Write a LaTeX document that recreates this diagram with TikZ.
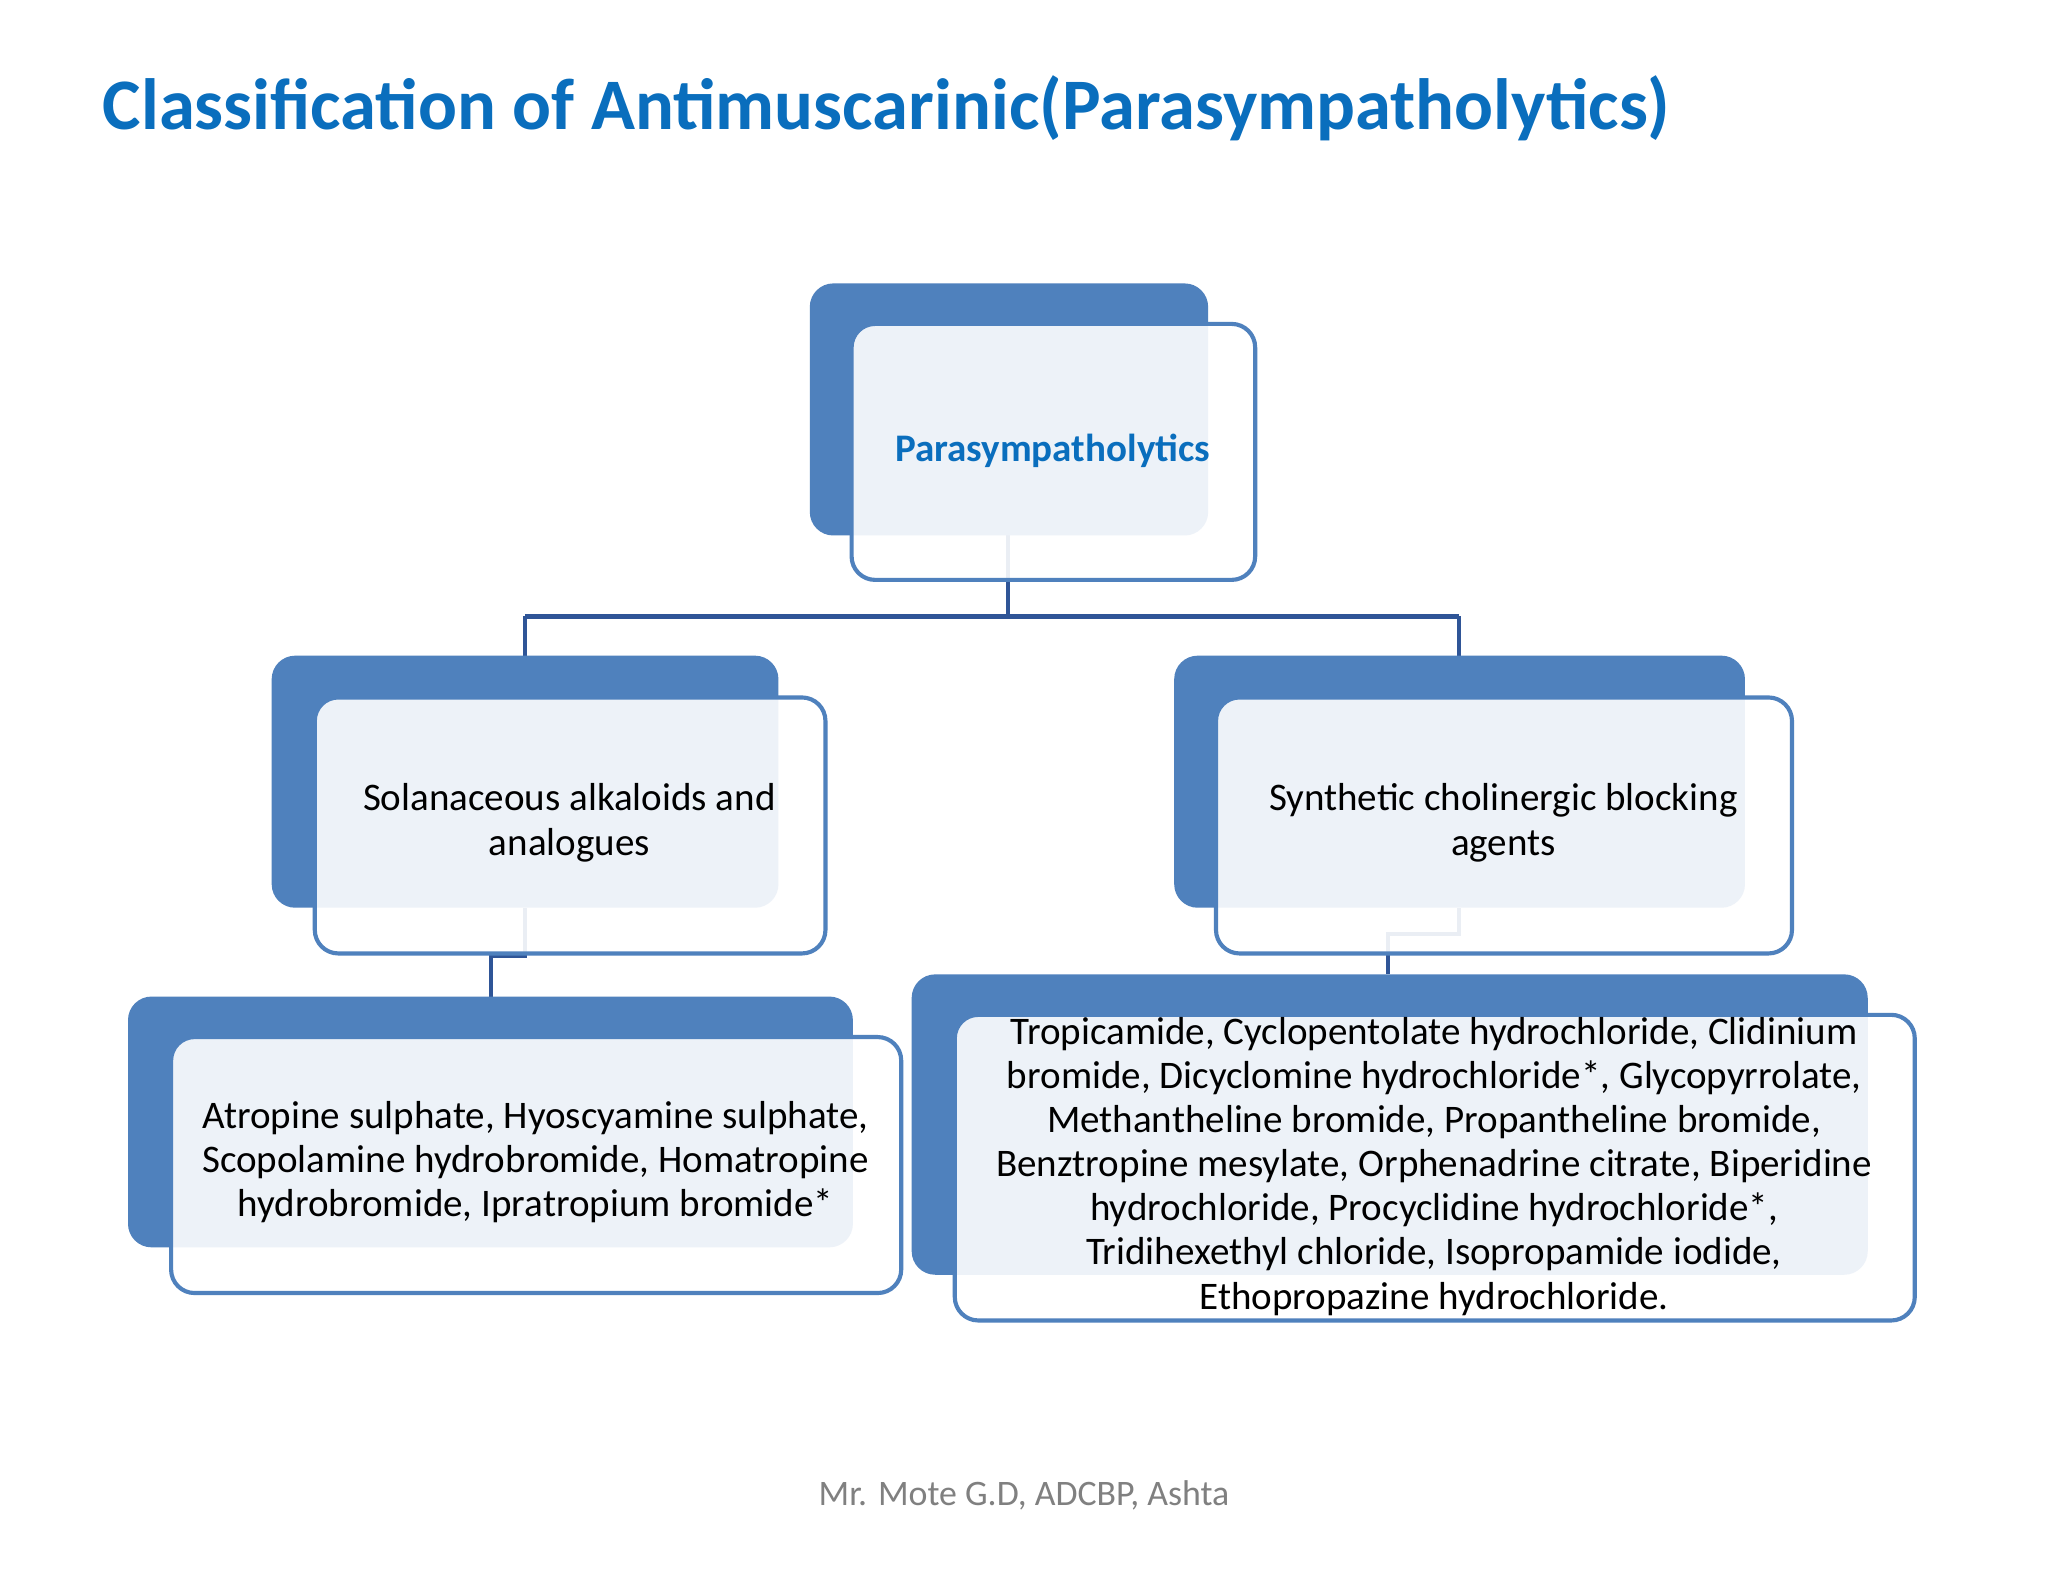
\documentclass[tikz,border=0pt]{standalone}
\usepackage{fontspec}
\setmainfont{Carlito}
\definecolor{ttl}{HTML}{0A6EBD}
\definecolor{bk}{HTML}{4F81BD}
\definecolor{ln}{HTML}{2F5597}
\begin{document}
\begin{tikzpicture}[x=0.01cm,y=-0.01cm,
 backbox/.style={fill=bk,rounded corners=0.18cm},
 frontbox/.style={fill=white,fill opacity=0.9,draw=bk,line width=0.9pt,rounded corners=0.18cm},
 lbl/.style={font=\fontsize{8.5pt}{9.6pt}\selectfont,align=center,text=black},
 conn/.style={draw=ln,line width=0.9pt}]
\useasboundingbox[fill=white] (0,0) rectangle (1568,1213);
\node[anchor=west,inner sep=0pt,font=\bfseries\fontsize{15.8pt}{18pt}\selectfont,text=ttl] (title) at (78,83) {Classification of Antimuscarinic(Parasympatholytics)};
% connectors
\coordinate (t1) at (772,410); \coordinate (t2) at (772,472);
\coordinate (t3) at (402,472); \coordinate (t4) at (402,502);
\coordinate (t5) at (1117,472); \coordinate (t6) at (1117,502);
\draw[conn] (t1)--(t2) (t3)--(t5) (t3)--(t4) (t5)--(t6);
\coordinate (l1) at (402,695); \coordinate (l2) at (402,732); \coordinate (l3) at (376,732); \coordinate (l4) at (376,763);
\draw[conn] (l1)--(l2)--(l3)--(l4);
\coordinate (r1) at (1117,695); \coordinate (r2) at (1117,715); \coordinate (r3) at (1063,715); \coordinate (r4) at (1063,746);
\draw[conn] (r1)--(r2)--(r3)--(r4);
% boxes
\fill[backbox] (620,217) rectangle (925,410);
\draw[frontbox] (652,248) rectangle (961,444);
\node[font=\bfseries\fontsize{8.5pt}{9.6pt}\selectfont,text=ttl] (root) at (806,345) {Parasympatholytics};
\fill[backbox] (208,502) rectangle (596,695);
\draw[frontbox] (241,534) rectangle (632,730);
\node[lbl] (sol) at (436,630) {Solanaceous alkaloids and\\analogues};
\fill[backbox] (899,502) rectangle (1336,695);
\draw[frontbox] (931,534) rectangle (1372,730);
\node[lbl] (syn) at (1151,630) {Synthetic cholinergic blocking\\agents};
\fill[backbox] (98,763) rectangle (653,955);
\draw[frontbox] (131,794) rectangle (690,990);
\node[lbl] (atr) at (410,890) {Atropine sulphate, Hyoscyamine sulphate,\\Scopolamine hydrobromide, Homatropine\\hydrobromide, Ipratropium bromide*};
\fill[backbox] (698,746) rectangle (1430,976);
\draw[frontbox] (731,777) rectangle (1466,1011);
\node[lbl] (tro) at (1098,893) {Tropicamide, Cyclopentolate hydrochloride, Clidinium\\bromide, Dicyclomine hydrochloride*, Glycopyrrolate,\\Methantheline bromide, Propantheline bromide,\\Benztropine mesylate, Orphenadrine citrate, Biperidine\\hydrochloride, Procyclidine hydrochloride*,\\Tridihexethyl chloride, Isopropamide iodide,\\Ethopropazine hydrochloride.};
\node[font=\fontsize{7.8pt}{9pt}\selectfont,text=gray] (foot) at (784,1145) {Mr. Mote G.D, ADCBP, Ashta};
\end{tikzpicture}
\end{document}
